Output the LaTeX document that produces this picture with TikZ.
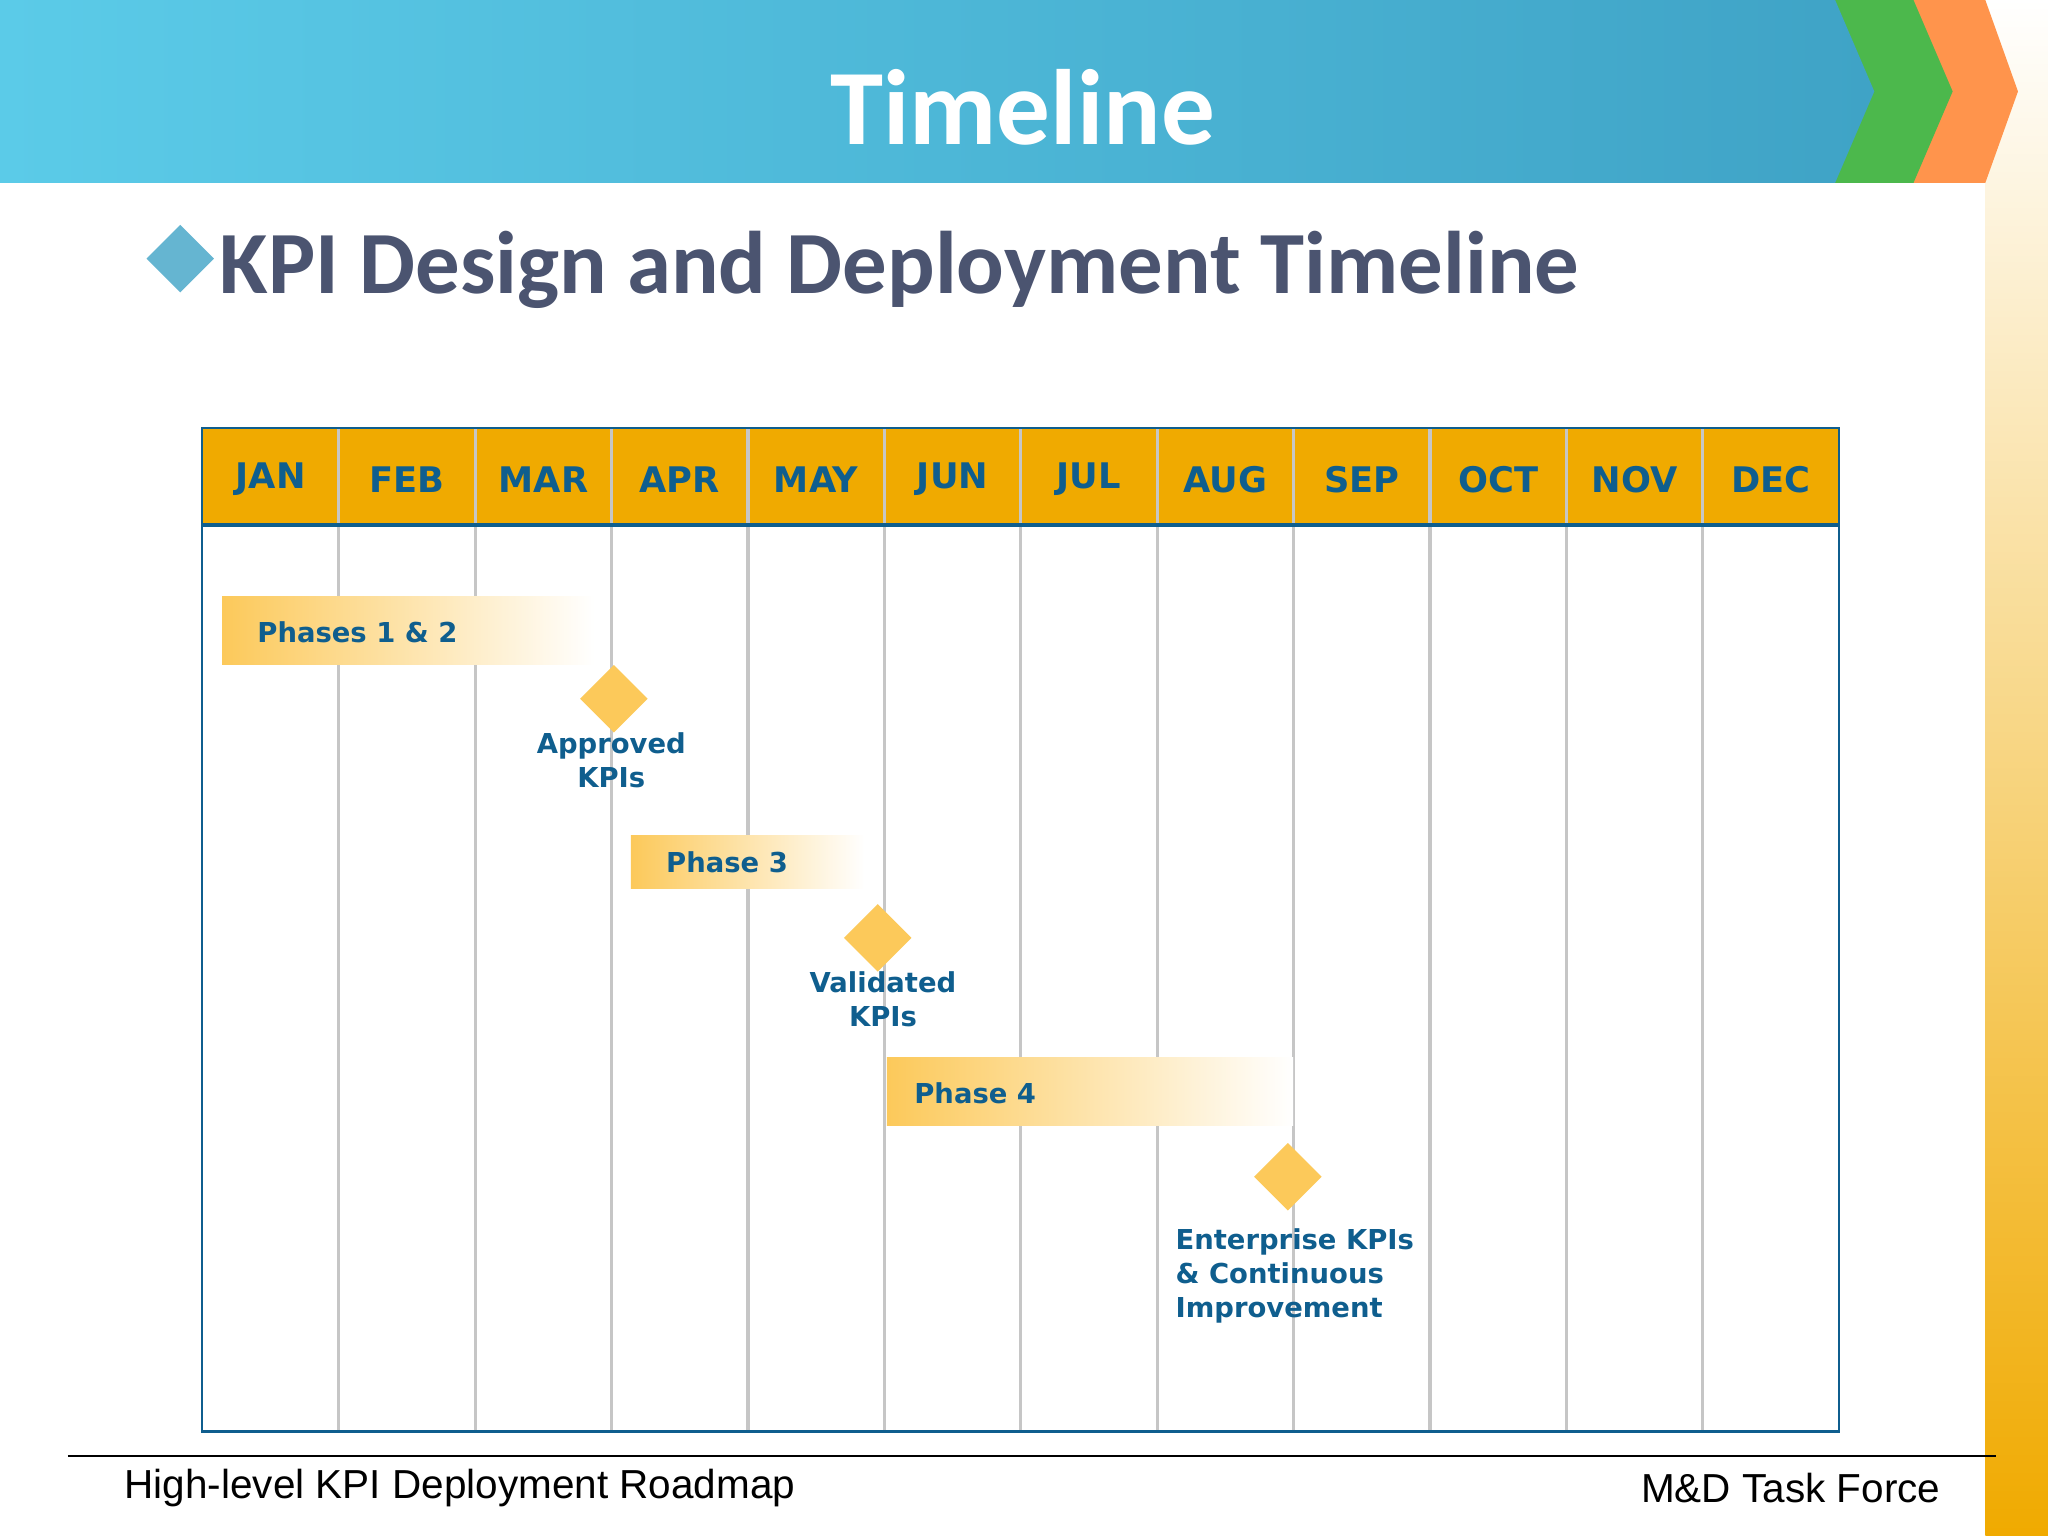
\documentclass[tikz,border=0pt]{standalone}
\usepackage{fontspec}
\setmainfont{Carlito}
\newfontfamily\vfont{DejaVu Sans}
\newfontfamily\afont{Liberation Sans}
\definecolor{hdrA}{HTML}{5BCBE8}
\definecolor{hdrB}{HTML}{3FA3C6}
\definecolor{gold}{HTML}{F0AA00}
\definecolor{navy}{HTML}{0F5E8E}
\definecolor{lgold}{HTML}{FCC95A}
\definecolor{subt}{HTML}{4B5470}
\usetikzlibrary{shapes.geometric}
\begin{document}
\begin{tikzpicture}[x=0.5pt,y=-0.5pt,
 month/.style={font=\vfont\bfseries\fontsize{13.5}{15}\selectfont,text=navy},
 lbl/.style={font=\vfont\bfseries\fontsize{10.5}{13}\selectfont,text=navy,align=center},
 ms/.style={diamond,fill=lgold,minimum size=26pt,inner sep=0pt},
 bar/.style={left color=lgold,right color=white,draw=none}]
\useasboundingbox (0,0) rectangle (1568,1176);
\fill[white] (0,0) rectangle (1568,1176);
% right strip
\shade[top color=white,bottom color=gold] (1520,0) rectangle (1568,1176);
% chevrons
\fill[orange!80!red!70] (1460,0) -- (1520,0) -- (1545,70) -- (1520,140) -- (1460,140) -- (1485,70) -- cycle;
\fill[green!60!black!70] (1400,0) -- (1465,0) -- (1495,70) -- (1465,140) -- (1400,140) -- (1430,70) -- cycle;
\shade[left color=hdrA,right color=hdrB] (0,0) -- (1405,0) -- (1435,70) -- (1405,140) -- (0,140) -- cycle;
\node[text=white,font=\bfseries\fontsize{41}{45}\selectfont] (title) at (783,82) {Timeline};
\node[diamond,fill=hdrB!80,minimum size=26pt,inner sep=0pt] (bul) at (138,198) {};
\node[anchor=west,text=subt,font=\bfseries\fontsize{34}{38}\selectfont,inner sep=0pt] (sub) at (168,207) {KPI Design and Deployment Timeline};
% table
\fill[gold] (155,328) rectangle (1408,402);
\foreach \i in {1,...,11}{\draw[gray!45,line width=1.2pt] ({155+\i*104.42},328) -- ({155+\i*104.42},1096);}
\draw[navy,line width=1.5pt] (155,402) -- (1408,402);
\draw[navy,line width=0.8pt] (155,328) rectangle (1408,1096);
\foreach \m [count=\i] in {JAN,FEB,MAR,APR,MAY,JUN,JUL,AUG,SEP,OCT,NOV,DEC}{
 \node[month] (m\i) at ({155+(\i-0.5)*104.42},367) {\m};}
% bars
\shade[bar] (170,457) rectangle (455,509);
\node[lbl,anchor=west] (p12) at (190,484) {Phases 1 \& 2};
\node[ms] (d1) at (470,535) {};
\node[lbl] (t1) at (468,582) {Approved\\KPIs};
\shade[bar] (483,640) rectangle (662,680);
\node[lbl,anchor=west] (p3) at (503,660) {Phase 3};
\node[ms] (d2) at (672,718) {};
\node[lbl] (t2) at (676,765) {Validated\\KPIs};
\shade[bar] (679,810) rectangle (990,862);
\node[lbl,anchor=west] (p4) at (693,837) {Phase 4};
\node[ms] (d3) at (986,901) {};
\node[lbl,align=left,anchor=north west] (t3) at (893,934) {Enterprise KPIs\\\& Continuous\\Improvement};
% footer
\draw[black,line width=0.7pt] (52,1115) -- (1528,1115);
\node[anchor=west,font=\afont\fontsize{15.5}{18}\selectfont,inner sep=0pt] (fl) at (95,1139) {High-level KPI Deployment Roadmap};
\node[anchor=east,font=\afont\fontsize{15.5}{18}\selectfont,inner sep=0pt] (fr) at (1486,1139) {M\&D Task Force};
\end{tikzpicture}
\end{document}
